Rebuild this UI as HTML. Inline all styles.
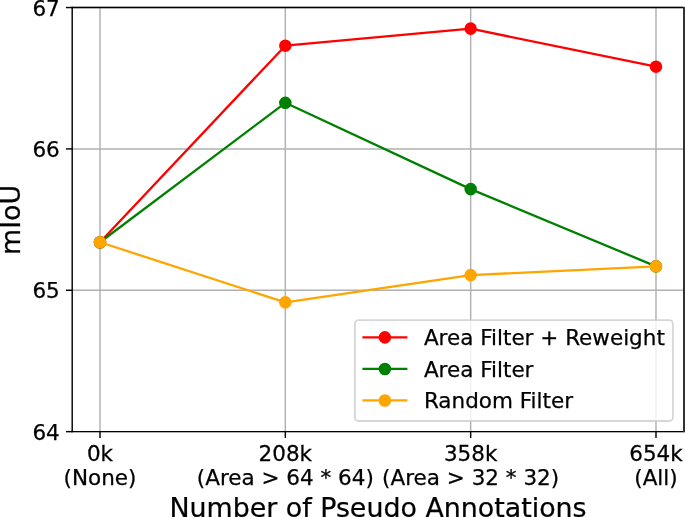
<!DOCTYPE html>
<html><head><meta charset="utf-8"><title>mIoU vs Number of Pseudo Annotations</title>
<style>html,body{margin:0;padding:0;background:#fff;width:685px;height:517px;overflow:hidden}svg{display:block}</style>
</head><body>
<svg width="685" height="517" viewBox="0 0 685 517">
<rect width="685" height="517" fill="#fff"/>
<g stroke="#b0b0b0" stroke-width="1.43" stroke-linecap="butt"><line x1="100.00" y1="7.55" x2="100.00" y2="431.65"/><line x1="285.33" y1="7.55" x2="285.33" y2="431.65"/><line x1="470.66" y1="7.55" x2="470.66" y2="431.65"/><line x1="655.99" y1="7.55" x2="655.99" y2="431.65"/><line x1="72.20" y1="431.65" x2="683.80" y2="431.65"/><line x1="72.20" y1="290.28" x2="683.80" y2="290.28"/><line x1="72.20" y1="148.92" x2="683.80" y2="148.92"/><line x1="72.20" y1="7.55" x2="683.80" y2="7.55"/></g>
<polyline points="100.00,242.25 285.33,45.68 470.66,28.64 655.99,66.68" fill="none" stroke="#ff0000" stroke-width="2.30" stroke-linejoin="round" stroke-linecap="butt"/>
<circle cx="100.00" cy="242.25" r="5.38" fill="#ff0000" stroke="#ff0000" stroke-width="1.79"/>
<circle cx="285.33" cy="45.68" r="5.38" fill="#ff0000" stroke="#ff0000" stroke-width="1.79"/>
<circle cx="470.66" cy="28.64" r="5.38" fill="#ff0000" stroke="#ff0000" stroke-width="1.79"/>
<circle cx="655.99" cy="66.68" r="5.38" fill="#ff0000" stroke="#ff0000" stroke-width="1.79"/>
<polyline points="100.00,242.25 285.33,102.83 470.66,189.10 655.99,266.37" fill="none" stroke="#008000" stroke-width="2.30" stroke-linejoin="round" stroke-linecap="butt"/>
<circle cx="100.00" cy="242.25" r="5.38" fill="#008000" stroke="#008000" stroke-width="1.79"/>
<circle cx="285.33" cy="102.83" r="5.38" fill="#008000" stroke="#008000" stroke-width="1.79"/>
<circle cx="470.66" cy="189.10" r="5.38" fill="#008000" stroke="#008000" stroke-width="1.79"/>
<circle cx="655.99" cy="266.37" r="5.38" fill="#008000" stroke="#008000" stroke-width="1.79"/>
<polyline points="100.00,242.25 285.33,302.35 470.66,275.12 655.99,266.37" fill="none" stroke="#ffa500" stroke-width="2.30" stroke-linejoin="round" stroke-linecap="butt"/>
<circle cx="100.00" cy="242.25" r="5.38" fill="#ffa500" stroke="#ffa500" stroke-width="1.79"/>
<circle cx="285.33" cy="302.35" r="5.38" fill="#ffa500" stroke="#ffa500" stroke-width="1.79"/>
<circle cx="470.66" cy="275.12" r="5.38" fill="#ffa500" stroke="#ffa500" stroke-width="1.79"/>
<circle cx="655.99" cy="266.37" r="5.38" fill="#ffa500" stroke="#ffa500" stroke-width="1.79"/>
<g stroke="#000" stroke-width="1.43" stroke-linecap="butt"><line x1="72.20" y1="6.83" x2="72.20" y2="432.37"/><line x1="71.48" y1="7.55" x2="683" y2="7.55"/><line x1="71.48" y1="431.65" x2="683" y2="431.65"/></g>
<rect x="683" y="6.83" width="2" height="425.53" fill="#333"/>
<g stroke="#000" stroke-width="1.43"><line x1="65.93" y1="431.65" x2="72.20" y2="431.65"/><line x1="65.93" y1="290.28" x2="72.20" y2="290.28"/><line x1="65.93" y1="148.92" x2="72.20" y2="148.92"/><line x1="65.93" y1="7.55" x2="72.20" y2="7.55"/><line x1="100.00" y1="431.65" x2="100.00" y2="437.92"/><line x1="285.33" y1="431.65" x2="285.33" y2="437.92"/><line x1="470.66" y1="431.65" x2="470.66" y2="437.92"/><line x1="655.99" y1="431.65" x2="655.99" y2="437.92"/></g>
<g font-family="'DejaVu Sans', 'Liberation Sans', sans-serif" font-size="21.5" fill="#000" stroke="#000" stroke-width="0.25"><text x="59.8" y="439.85" text-anchor="end">64</text><text x="59.8" y="298.48" text-anchor="end">65</text><text x="59.8" y="157.12" text-anchor="end">66</text><text x="59.8" y="15.75" text-anchor="end">67</text><text x="100.00" y="460.8" text-anchor="middle" transform="matrix(1 0 0 1.02 0 -9.216)">0k</text><text x="100.00" y="484.6" text-anchor="middle">(None)</text><text x="285.33" y="460.8" text-anchor="middle" transform="matrix(1 0 0 1.02 0 -9.216)">208k</text><text x="285.33" y="484.6" text-anchor="middle">(Area &gt; 64 * 64)</text><text x="470.66" y="460.8" text-anchor="middle" transform="matrix(1 0 0 1.02 0 -9.216)">358k</text><text x="470.66" y="484.6" text-anchor="middle">(Area &gt; 32 * 32)</text><text x="655.99" y="460.8" text-anchor="middle" transform="matrix(1 0 0 1.02 0 -9.216)">654k</text><text x="655.99" y="484.6" text-anchor="middle">(All)</text></g>
<g font-family="'DejaVu Sans', 'Liberation Sans', sans-serif" font-size="26.85" fill="#000" stroke="#000" stroke-width="0.25"><text x="378.0" y="516.8" text-anchor="middle">Number of Pseudo Annotations</text><text transform="translate(19.7 219.95) rotate(-90)" text-anchor="middle">mIoU</text></g>
<rect x="354.9" y="320.05" width="317.95" height="100.95" rx="3.60" ry="3.60" fill="#fff" fill-opacity="0.8" stroke="#cccccc" stroke-opacity="0.8" stroke-width="1.79"/>
<line x1="362.4" y1="337.35" x2="407.4" y2="337.35" stroke="#ff0000" stroke-width="2.30"/>
<circle cx="384.90" cy="337.35" r="5.38" fill="#ff0000" stroke="#ff0000" stroke-width="1.79"/>
<text x="423.9" y="345.15" font-family="'DejaVu Sans', 'Liberation Sans', sans-serif" font-size="21.5" fill="#000" stroke="#000" stroke-width="0.25">Area Filter + Reweight</text>
<line x1="362.4" y1="368.95" x2="407.4" y2="368.95" stroke="#008000" stroke-width="2.30"/>
<circle cx="384.90" cy="368.95" r="5.38" fill="#008000" stroke="#008000" stroke-width="1.79"/>
<text x="423.9" y="376.75" font-family="'DejaVu Sans', 'Liberation Sans', sans-serif" font-size="21.5" fill="#000" stroke="#000" stroke-width="0.25">Area Filter</text>
<line x1="362.4" y1="400.45" x2="407.4" y2="400.45" stroke="#ffa500" stroke-width="2.30"/>
<circle cx="384.90" cy="400.45" r="5.38" fill="#ffa500" stroke="#ffa500" stroke-width="1.79"/>
<text x="423.9" y="408.25" font-family="'DejaVu Sans', 'Liberation Sans', sans-serif" font-size="21.5" fill="#000" stroke="#000" stroke-width="0.25">Random Filter</text>
</svg>
</body></html>
